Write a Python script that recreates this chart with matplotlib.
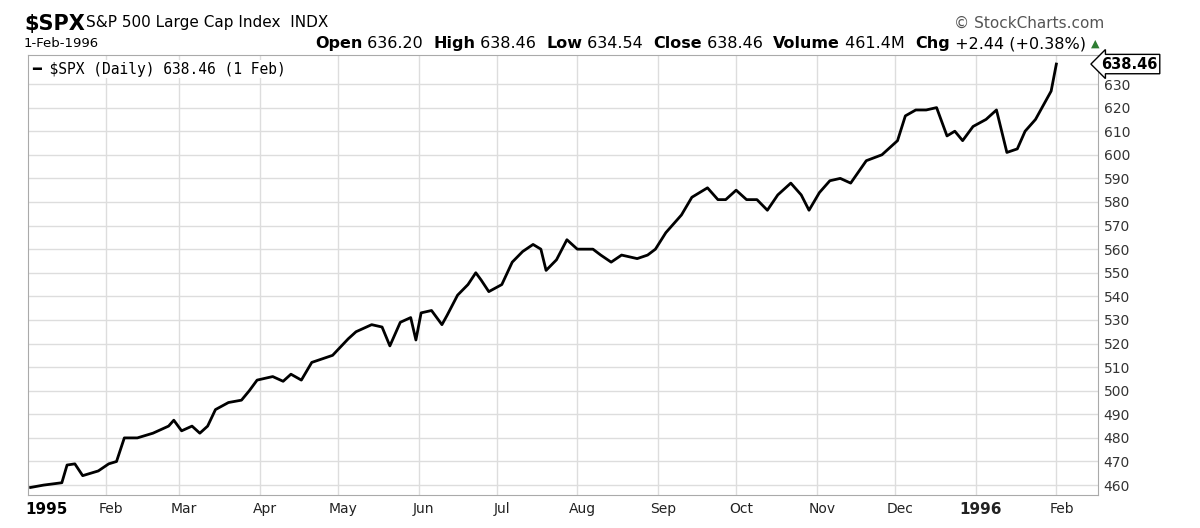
import numpy as np
import pandas as pd
import matplotlib
matplotlib.use('Agg')
import matplotlib.pyplot as plt

# days since 3-Jan-1995, closing values
day_offsets = [0, 5, 12, 14, 17, 20, 26, 30, 33, 36, 41, 47, 53, 55, 58, 62, 65, 68, 71, 76,
               81, 84, 87, 93, 97, 100, 104, 108, 116, 122, 125, 131, 135, 138, 142, 146, 148,
               150, 154, 158, 160, 164, 168, 171, 173, 176, 181, 185, 189, 193, 196, 198, 202,
               206, 210, 216, 219, 223, 227, 233, 237, 240, 244, 250, 254, 260, 264, 267, 271,
               275, 279, 283, 287, 292, 296, 299, 303, 307, 311, 315, 321, 327, 333, 336, 340,
               344, 348, 352, 355, 358, 362, 367, 371, 375, 379, 382, 386, 389, 392, 394]
closes = [459, 460, 461, 468.5, 469, 464, 466, 469, 470, 480, 480, 482, 485, 487.5, 483, 485,
          482, 485, 492, 495, 496, 500, 504.5, 506, 504, 507, 504.5, 512, 515, 522, 525, 528,
          527, 519, 529, 531, 521.5, 533, 534, 528, 532, 540.5, 545, 550, 547, 542, 545, 554.5,
          559, 562, 560, 551, 555.5, 564, 560, 560, 557.5, 554.5, 557.5, 556, 557.5, 560, 567,
          574.5, 582, 586, 581, 581, 585, 581, 581, 576.5, 583, 588, 583, 576.5, 584, 589, 590,
          588, 597.5, 600, 606, 616.5, 619, 619, 620, 608, 610, 606, 612, 615, 619, 601, 602.5,
          610, 615, 621, 627, 638.46]
y_ticks = list(range(460, 631, 10))
month_labels = ['Feb', 'Mar', 'Apr', 'May', 'Jun', 'Jul', 'Aug', 'Sep', 'Oct', 'Nov', 'Dec',
                '1996', 'Feb']
header = [('Open', True), (' 636.20  ', False), ('High', True), (' 638.46  ', False),
          ('Low', True), (' 634.54  ', False), ('Close', True), (' 638.46  ', False),
          ('Volume', True), (' 461.4M  ', False), ('Chg', True), (' +2.44 (+0.38%) ', False)]

start = pd.Timestamp('1995-01-03')
dates = start + pd.to_timedelta(day_offsets, unit='D')
months = pd.date_range('1995-02-01', '1996-02-01', freq='MS')

fig = plt.figure(figsize=(12, 5.28), dpi=100)
ax = fig.add_axes([28/1200, 1-495/528, 1070/1200, 440/528])
ax.plot(dates, closes, color='black', lw=2)
ax.set_xlim(pd.Timestamp('1995-01-02'), pd.Timestamp('1996-02-17'))
ax.set_ylim(455.8, 642.3)

ax.yaxis.tick_right()
ax.set_yticks(y_ticks)
ax.tick_params(axis='y', length=0, labelsize=10, colors='#333333', pad=4)
ax.set_xticks(months)
ax.set_xticklabels([])
ax.tick_params(axis='x', length=0)
ax.grid(True, color='#dddddd', lw=1)
for s in ax.spines.values():
    s.set_color('#aaaaaa')

trans = ax.get_xaxis_transform()
ax.text(start - pd.Timedelta(days=2), -0.015, '1995', transform=trans, ha='left', va='top',
        fontsize=11, fontweight='bold')
for m, lab in zip(months, month_labels):
    bold = lab == '1996'
    ax.text(m + pd.Timedelta(days=2), -0.015, lab, transform=trans, ha='center', va='top',
            fontsize=11 if bold else 10, fontweight='bold' if bold else 'normal', color='#222222')

ax.text(1.003, (638.46 - 455.8) / (642.3 - 455.8), '638.46', transform=ax.transAxes,
        ha='left', va='center', fontsize=10.5, fontweight='bold',
        bbox=dict(boxstyle='larrow,pad=0.15', fc='white', ec='black', lw=1))

ax.text(0.004, 0.985, '━ $SPX (Daily) 638.46 (1 Feb)', transform=ax.transAxes, ha='left',
        va='top', fontsize=10.5, family='DejaVu Sans Mono',
        bbox=dict(fc='white', ec='none', pad=1))

fig.text(0.02, 0.955, '$SPX', fontsize=15, fontweight='bold', va='center')
fig.text(0.072, 0.957, 'S&P 500 Large Cap Index  INDX', fontsize=11, va='center')
fig.text(0.02, 0.917, '1-Feb-1996', fontsize=9.5, va='center')

# header values: bold label then plain number, laid out left to right
fig.canvas.draw()
r = fig.canvas.get_renderer()
x = 315
for txt, bold in header:
    t = fig.text(x / 1200, 0.917, txt, fontsize=11.5, fontweight='bold' if bold else 'normal',
                 va='center', ha='left')
    x += t.get_window_extent(r).width
fig.text(x / 1200, 0.918, '▲', fontsize=8, va='center', color='#2e7d32')
fig.text(0.92, 0.955, '© StockCharts.com', fontsize=11, va='center', ha='right', color='#555555')

fig.savefig('out.png', dpi=100)
